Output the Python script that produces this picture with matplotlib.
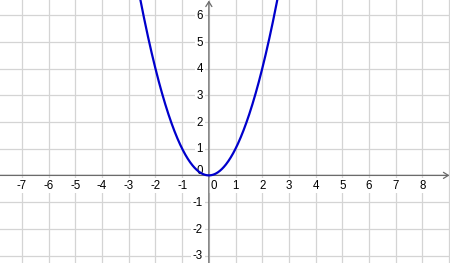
import numpy as np
import matplotlib
matplotlib.use("Agg")
import matplotlib.pyplot as plt

# parabola: y = 1*x^2 + 0*x + 0
coeffs = [1, 0, 0]
x_ticks = [-7, -6, -5, -4, -3, -2, -1, 1, 2, 3, 4, 5, 6, 7, 8]
y_ticks = [-3, -2, -1, 1, 2, 3, 4, 5, 6]
x_range = (-7.82, 9.03)
y_range = (-3.28, 6.565)

plt.rcParams['font.family'] = ['Liberation Sans', 'DejaVu Sans']
plt.rcParams['axes.unicode_minus'] = False

fig = plt.figure(figsize=(4.5, 2.63), dpi=100)
ax = fig.add_axes([0, 0, 1, 1])
ax.set_xlim(*x_range)
ax.set_ylim(*y_range)
ax.axis('off')

grid_color = '#d4d4d4'
axis_color = '#6b6b6b'
label_box = dict(facecolor='white', edgecolor='none', pad=1.2)

# grid, one line per unit
for gx in range(int(np.ceil(x_range[0])), int(np.floor(x_range[1])) + 1):
    ax.axvline(gx, color=grid_color, lw=0.9, zorder=0)
for gy in range(int(np.ceil(y_range[0])), int(np.floor(y_range[1])) + 1):
    ax.axhline(gy, color=grid_color, lw=0.9, zorder=0)

# tick labels with white backgrounds (they cut the grid)
for tx in x_ticks:
    ax.annotate(str(tx), (tx, 0), xytext=(0, -7.3), textcoords='offset points',
                ha='center', va='center', fontsize=8.3, bbox=label_box, zorder=2)
for ty in y_ticks:
    ax.annotate(str(ty), (0, ty), xytext=(-4.2, -0.6), textcoords='offset points',
                ha='right', va='center', fontsize=8.3, bbox=label_box, zorder=2)
ax.annotate('0', (0, 0), xytext=(-4.2, 3.0), textcoords='offset points',
            ha='right', va='center', fontsize=8.3, zorder=2)
ax.annotate('0', (0, 0), xytext=(3.6, -7.3), textcoords='offset points',
            ha='center', va='center', fontsize=8.3, bbox=label_box, zorder=2)

# axes with open arrow heads
arrow = dict(arrowstyle='->,head_length=0.35,head_width=0.22', color=axis_color,
             lw=0.9, shrinkA=0, shrinkB=0)
ax.annotate('', xy=(x_range[1] - 0.02, 0), xytext=(x_range[0], 0),
            arrowprops=arrow, zorder=3)
ax.annotate('', xy=(0, y_range[1] - 0.02), xytext=(0, y_range[0]),
            arrowprops=arrow, zorder=3)

# the curve
xs = np.linspace(-3, 3, 400)
ax.plot(xs, np.polyval(coeffs, xs), color='#0000cc', lw=1.6, zorder=4,
        solid_capstyle='round')

fig.savefig('out.png', dpi=100)
